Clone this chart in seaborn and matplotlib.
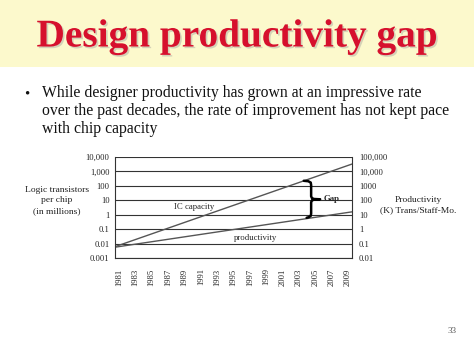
import matplotlib
matplotlib.use("Agg")
import matplotlib.pyplot as plt
import matplotlib.patheffects as pe
import matplotlib.ticker as mticker
import numpy as np
import pandas as pd
import seaborn as sns

# ---- data ----
years_end = [1981, 2010]
ic_capacity = [0.0061, 3250]        # millions of logic transistors per chip
productivity = [0.0056, 1.58]       # same left-axis scale
left_ticks = [0.001, 0.01, 0.1, 1, 10, 100, 1000, 10000]
left_labels = ["0.001", "0.01", "0.1", "1", "10", "100", "1,000", "10,000"]
right_ticks = [0.01, 0.1, 1, 10, 100, 1000, 10000, 100000]
right_labels = ["0.01", "0.1", "1", "10", "100", "1000", "10,000", "100,000"]
year_labels = list(range(1981, 2010, 2))
gap_year = 2005.0
gap_top = 225
gap_bottom = 0.61

title = "Design productivity gap"
bullet = ("While designer productivity has grown at an impressive rate\n"
          "over the past decades, the rate of improvement has not kept pace\n"
          "with chip capacity")

sns.set_style("white")
plt.rcParams["font.family"] = ["Liberation Serif", "DejaVu Serif"]

W, H = 474, 355
fig = plt.figure(figsize=(W / 100, H / 100), dpi=100)
fig.patch.set_facecolor("white")

def fx(x):
    return x / W

def fy(y):
    return 1 - y / H

# title band
fig.patches.append(plt.Rectangle((0, fy(67)), 1, 67 / H, transform=fig.transFigure,
                                 facecolor="#fcf9cc", edgecolor="none", zorder=0))
fig.text(fx(237), fy(37), title, ha="center", va="center", fontsize=28.3,
         fontweight="bold", color="#d6102d",
         path_effects=[pe.SimplePatchShadow(offset=(1.2, -1.2), shadow_rgbFace="#999999", alpha=0.4),
                       pe.Normal()])

fig.text(fx(24), fy(93.5), "\u2022", ha="left", va="center", fontsize=10.5, color="#111111")
fig.text(fx(42), fy(111), bullet, ha="left", va="center", fontsize=11.3,
         color="#111111", linespacing=1.17)

fig.text(fx(452), fy(331), "33", ha="center", va="center", fontsize=6.5, color="#555555")

# chart
ax = fig.add_axes([fx(115), fy(258), fx(352) - fx(115), (258 - 157) / H])
df = pd.DataFrame({
    "year": years_end + years_end,
    "value": ic_capacity + productivity,
    "series": ["IC capacity"] * 2 + ["productivity"] * 2,
})
sns.lineplot(data=df, x="year", y="value", hue="series",
             palette=["#555555", "#555555"], linewidth=1.0, legend=False, ax=ax)
ax.set_yscale("log")
ax.set_ylim(left_ticks[0], left_ticks[-1])
ax.set_xlim(years_end[0], years_end[-1])
ax.yaxis.set_minor_locator(mticker.NullLocator())
ax.set_yticks(left_ticks)
ax.set_yticklabels(left_labels)
ax.grid(axis="y", color="#333333", linewidth=0.8)
ax.set_axisbelow(True)
ax.tick_params(axis="y", length=0, pad=4, labelsize=6.2)

ax.set_xticks([y + 0.5 for y in year_labels])
ax.set_xticklabels([str(y) for y in year_labels], rotation=90)
ax.set_xticks(np.arange(years_end[0], years_end[-1] + 1), minor=True)
ax.tick_params(axis="x", which="major", length=0, pad=7.5, labelsize=6.2)
ax.tick_params(axis="x", which="minor", length=5.5, width=0.8, color="#222222", direction="out")
ax.set_xlabel("")
ax.set_ylabel("")
for s in ax.spines.values():
    s.set_color("#333333")
    s.set_linewidth(0.8)
ax.spines["top"].set_visible(False)

ax2 = ax.twinx()
ax2.set_yscale("log")
ax2.set_ylim(right_ticks[0], right_ticks[-1])
ax2.set_yticks(right_ticks)
ax2.set_yticklabels(right_labels)
ax2.yaxis.set_minor_locator(mticker.NullLocator())
ax2.tick_params(axis="y", length=0, pad=5, labelsize=6.2)
for s in ax2.spines.values():
    s.set_visible(False)

# gap brace
x0 = gap_year
mid = np.sqrt(gap_top * gap_bottom)
bx = [x0 - 0.9, x0 - 0.35, x0 - 0.05, x0, x0, x0 + 0.1, x0 + 0.35, x0 + 1.1,
      x0 + 0.35, x0 + 0.1, x0, x0, x0 - 0.05, x0 - 0.3, x0 - 0.55]
by = [gap_top, gap_top * 0.93, gap_top * 0.75, gap_top * 0.5, mid * 1.6, mid * 1.2,
      mid * 1.05, mid, mid * 0.95, mid * 0.83, mid * 0.62, gap_bottom * 2.0,
      gap_bottom * 1.35, gap_bottom * 1.1, gap_bottom]
ax.plot(bx, by, color="black", linewidth=1.8, solid_capstyle="round", solid_joinstyle="round")
ax.text(x0 + 1.5, mid * 1.1, "Gap", fontsize=6.3, ha="left", va="center", fontweight="bold")
ax.text(1988.2, 3.4, "IC capacity", fontsize=6.3, ha="left", va="center")
ax.text(1995.6, 0.026, "productivity", fontsize=6.3, ha="left", va="center")

fig.text(fx(57), fy(200.5), "Logic transistors\nper chip\n(in millions)", ha="center",
         va="center", fontsize=6.8, linespacing=1.4, color="#222222")
fig.text(fx(418), fy(205), "Productivity\n(K) Trans/Staff-Mo.", ha="center",
         va="center", fontsize=6.8, linespacing=1.4, color="#222222")

fig.savefig("out.png", dpi=100, facecolor="white")
